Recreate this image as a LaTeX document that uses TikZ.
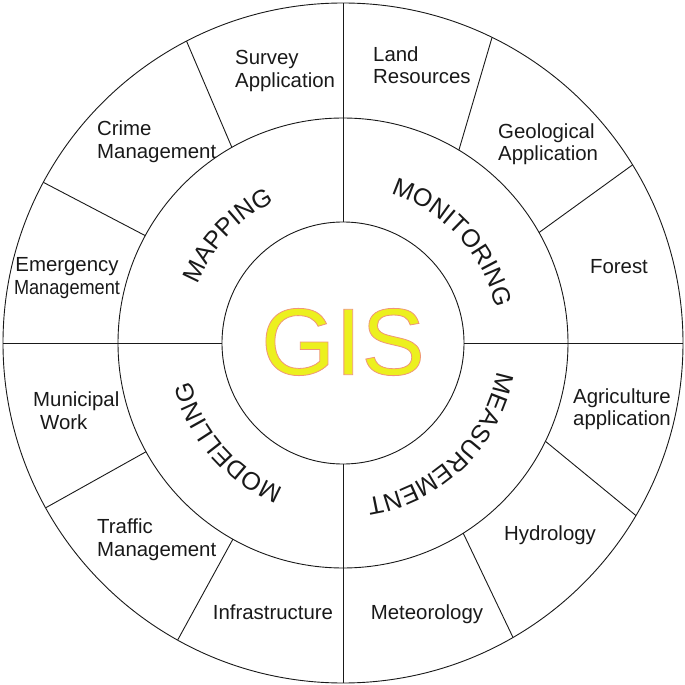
\documentclass[tikz,border=0pt]{standalone}
\usepackage{fontspec}
\setmainfont{Liberation Sans}
\usetikzlibrary{decorations.text}
\definecolor{gisfill}{RGB}{236,240,30}
\definecolor{ink}{RGB}{25,25,25}
\newcommand\ringfont{\fontsize{25}{30}\selectfont}
\begin{document}
\begin{tikzpicture}[x=1pt,y=1pt,
  ringline/.style={draw=ink, line width=0.9pt},
  lbl/.style={font=\fontsize{20.4}{22.5}\selectfont, text=ink, inner sep=0pt},
  ringtext/.style={decorate, decoration={text along path, text align=center, text color=ink, text={|\ringfont|#1}}}
  ]
\useasboundingbox (-343,-342) rectangle (342,343);
\coordinate (C) at (0,0);
\draw[ringline] (C) circle[radius=340pt];
\draw[ringline] (C) circle[radius=225pt];
\draw[ringline] (C) circle[radius=121pt];
% quadrant lines
\coordinate (e0) at (0:121pt);   \coordinate (E0) at (0:340pt);
\coordinate (e1) at (90:121pt);  \coordinate (E1) at (90:340pt);
\coordinate (e2) at (180:121pt); \coordinate (E2) at (180:340pt);
\coordinate (e3) at (270:121pt); \coordinate (E3) at (270:340pt);
\draw[ringline] (e0) -- (E0);
\draw[ringline] (e1) -- (E1);
\draw[ringline] (e2) -- (E2);
\draw[ringline] (e3) -- (E3);
% sector dividers in outer ring
\coordinate (tl1i) at (119.6:225pt); \coordinate (tl1o) at (117.4:340pt);
\coordinate (tl2i) at (151.5:225pt); \coordinate (tl2o) at (151.8:340pt);
\coordinate (tr1i) at (59.0:225pt);  \coordinate (tr1o) at (64.0:340pt);
\coordinate (tr2i) at (29.4:225pt);  \coordinate (tr2o) at (31.6:340pt);
\coordinate (bl1i) at (208.9:225pt); \coordinate (bl1o) at (209.0:340pt);
\coordinate (bl2i) at (240.7:225pt); \coordinate (bl2o) at (240.9:340pt);
\coordinate (br1i) at (-25.9:225pt); \coordinate (br1o) at (-30.5:340pt);
\coordinate (br2i) at (-57.7:225pt); \coordinate (br2o) at (-60.0:340pt);
\draw[ringline] (tl1i) -- (tl1o);
\draw[ringline] (tl2i) -- (tl2o);
\draw[ringline] (tr1i) -- (tr1o);
\draw[ringline] (tr2i) -- (tr2o);
\draw[ringline] (bl1i) -- (bl1o);
\draw[ringline] (bl2i) -- (bl2o);
\draw[ringline] (br1i) -- (br1o);
\draw[ringline] (br2i) -- (br2o);
% outer labels
\node[lbl, anchor=west, align=left] (survey) at (-108,272) {Survey\\Application};
\node[lbl, anchor=west, align=left] (land) at (30,278) {Land\\Resources};
\node[lbl, anchor=west, align=left] (geo) at (155,199) {Geological\\Application};
\node[lbl] (forest) at (276,76.3) {Forest};
\node[lbl, anchor=west, align=left] (agri) at (230,-66) {Agriculture\\application};
\node[lbl] (hydro) at (207,-192) {Hydrology};
\node[lbl] (meteo) at (84,-271.4) {Meteorology};
\node[lbl] (infra) at (-70,-269.2) {Infrastructure};
\node[lbl, anchor=west, align=left] (traffic) at (-246,-196.7) {Traffic\\Management};
\node[lbl, anchor=west, align=left] (municipal) at (-310,-67.9) {Municipal\\\hspace*{7pt}Work};
\node[lbl, align=center] (emergency) at (-276,65) {Emergency\\\scalebox{0.89}[1]{Management}};
\node[lbl, anchor=west, align=left] (crime) at (-246,201.5) {Crime\\Management};
% ring labels
\path[ringtext=MAPPING] (177:157pt) arc[start angle=177, end angle=97, radius=157pt];
\path[ringtext=MONITORING] (92.6:157pt) arc[start angle=92.6, end angle=-7.4, radius=157pt];
\path[ringtext=MEASUREMENT] (4:157pt) arc[start angle=4, end angle=-96, radius=157pt];
\path[ringtext=MODELLING] (266:157pt) arc[start angle=266, end angle=176, radius=157pt];
% centre
\node[inner sep=0pt, font=\fontsize{95}{100}\selectfont] (gis) at (0,1)
  {\color{gisfill}\special{pdf:literal direct 2 Tr 0.8 w 0.94 0.59 0.47 RG}GIS\special{pdf:literal direct 0 Tr}};
\end{tikzpicture}
\end{document}
